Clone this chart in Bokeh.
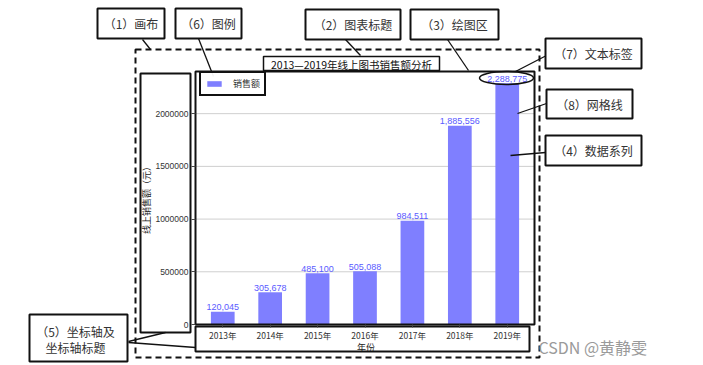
import numpy as np
from bokeh.plotting import figure
from bokeh.models import (ColumnDataSource, LinearAxis, FixedTicker, BasicTickFormatter,
                          Range1d, Legend, LegendItem)
from bokeh.core.properties import value
from bokeh.embed import file_html
from bokeh.resources import INLINE

# ---------------- data ----------------
years = ["2013年", "2014年", "2015年", "2016年", "2017年", "2018年", "2019年"]
sales = [120045, 305678, 485100, 505088, 984511, 1885556, 2288775]
y_ticks = [0, 500000, 1000000, 1500000, 2000000]
series_name = "销售额"
chart_title = "2013—2019年线上图书销售额分析"
x_title = "年份"
y_title = "线上销售额（元）"
callout_texts = ["（1）画布", "（6）图例", "（2）图表标题", "（3）绘图区",
                 "（7）文本标签", "（8）网格线", "（4）数据系列"]
callout5_lines = ["（5）坐标轴及", "坐标轴标题"]
watermark = "CSDN @黄静雯"

CJK = "Noto Sans CJK SC"
LAT = "Liberation Sans"

# ---------------- layout (page pixels) ----------------
W, H = 703, 365
PL, PR, PT, PB = 195, 534, 71, 324          # plot area box
x_lo, x_hi = -0.575, 6.575                   # category index span of plot area
y_lo, y_hi = 0, 2400000
kx = (PR - PL) / (x_hi - x_lo)
ky = (PB - PT) / (y_hi - y_lo)

p = figure(width=W, height=H, x_range=Range1d(0, W), y_range=Range1d(H, 0),
           x_axis_type=None, y_axis_type=None, output_backend="svg",
           toolbar_location=None, min_border=0)
p.outline_line_color = None
p.background_fill_color = "white"
p.border_fill_color = "white"
p.extra_x_ranges = {"bars": Range1d(x_lo - PL / kx, x_hi + (W - PR) / kx)}
p.extra_y_ranges = {"sales": Range1d(y_lo - (H - PB) / ky, y_hi + PT / ky)}
CH = dict(x_range_name="bars", y_range_name="sales")

idx = list(range(len(years)))

# grid lines
p.segment(x0=x_lo, x1=x_hi, y0=y_ticks, y1=y_ticks, line_color="#cfcfcf", line_width=1, **CH)

# bars + value labels
src = ColumnDataSource(dict(x=idx, y=sales, text=[f"{v:,}" for v in sales]))
bars = p.vbar(x="x", top="y", width=0.5, source=src, fill_color="#7f7fff", line_color=None, **CH)
p.text(x="x", y="y", text="text", source=src, y_offset=-1.5, text_align="center",
       text_baseline="bottom", text_font=value(LAT), text_font_size="9px",
       text_color="#5a5aff", **CH)

# plot area frame
p.quad(left=x_lo, right=x_hi, bottom=y_lo, top=y_hi, fill_color=None,
       line_color="#111", line_width=2, **CH)

# axes
yax = LinearAxis(fixed_location=x_lo, bounds=(y_lo, y_hi), ticker=FixedTicker(ticks=y_ticks),
                 formatter=BasicTickFormatter(use_scientific=False), **CH)
xax = LinearAxis(fixed_location=y_lo, bounds=(x_lo, x_hi), ticker=FixedTicker(ticks=idx),
                 major_label_overrides={i: s for i, s in zip(idx, years)}, **CH)
for ax in (xax, yax):
    ax.axis_line_color = None
    ax.major_tick_in = 0
    ax.major_tick_out = 4
    ax.major_tick_line_color = "#444"
    ax.minor_tick_line_color = None
    ax.major_label_text_font_size = "8.5px"
    ax.major_label_text_color = "#333"
yax.major_label_text_font = LAT
yax.major_label_standoff = 3
xax.major_label_text_font = CJK
xax.major_tick_out = 3
xax.major_label_standoff = 1
p.add_layout(yax, "left")
p.add_layout(xax, "below")

# axis titles
p.text(x=[146], y=[(PT + PB) / 2], text=[y_title], angle=np.pi / 2, text_align="center",
       text_baseline="middle", text_font=value(CJK), text_font_size="9px", text_color="#222")
p.text(x=[(PL + PR) / 2 + 1], y=[346.5], text=[x_title], text_align="center",
       text_baseline="middle", text_font=value(CJK), text_font_size="9px", text_color="#222")

# legend
legend = Legend(items=[LegendItem(label=series_name, renderers=[bars])],
                location=(199, H - 96), padding=4, margin=0,
                border_line_color="#111", border_line_width=2, border_line_alpha=1,
                glyph_width=18, glyph_height=7, label_height=12, label_standoff=10,
                label_text_font=CJK, label_text_font_size="9px", label_text_color="#333")
p.add_layout(legend)

# chart title in a box
p.quad(left=263, right=439, top=56, bottom=70, fill_color="white", line_color="#111", line_width=1.5)
p.text(x=[351], y=[63.5], text=[chart_title], text_align="center", text_baseline="middle",
       text_font=value(CJK), text_font_size="10.5px", text_color="#111")

# canvas dashed border and axis boxes
p.quad(left=135, right=539, top=49, bottom=357, fill_color=None, line_color="#111",
       line_width=2, line_dash="6 4")
p.quad(left=[140, 195], right=[190, 529], top=[73, 326], bottom=[332, 351], fill_color=None,
       line_color="#111", line_width=2)

# ellipse round the 2019 value label
p.ellipse(x=506, y=77.5, width=54, height=13, fill_color=None, line_color="#111", line_width=1.5)

# callout connectors
segs = [(142, 39, 150, 49), (198, 38, 213, 76), (345, 39, 360, 55), (447, 39, 468, 70),
        (515, 71, 546, 55), (517, 113, 546, 103), (510, 155, 545, 152),
        (128, 341, 165, 332), (128, 342, 195, 347)]
p.segment(x0=[s[0] for s in segs], y0=[s[1] for s in segs], x1=[s[2] for s in segs],
          y1=[s[3] for s in segs], line_color="#111", line_width=1.3)

# callout boxes
boxes = [(97, 8, 164, 38), (175, 8, 241, 38), (305, 9, 400, 39), (410, 9, 498, 39),
         (545, 38, 641, 68), (546, 89, 632, 118), (545, 135, 641, 165), (29, 314, 127, 361)]
p.quad(left=[b[0] for b in boxes], right=[b[2] for b in boxes], top=[b[1] for b in boxes],
       bottom=[b[3] for b in boxes], fill_color="white", line_color="#111", line_width=2)
tx = [(b[0] + b[2]) / 2 for b in boxes[:7]] + [75, 75]
ty = [(b[1] + b[3]) / 2 for b in boxes[:7]] + [331, 347]
p.text(x=tx, y=ty, text=callout_texts + callout5_lines, text_align="center",
       text_baseline="middle", text_font=value(CJK), text_font_size="12px", text_color="#333")

# watermark
p.text(x=[538], y=[346], text=[watermark], text_align="left", text_baseline="middle",
       text_font=value(CJK), text_font_size="16px", text_color="#9a9a9a")

open("out.html", "w").write(file_html(p, INLINE))
